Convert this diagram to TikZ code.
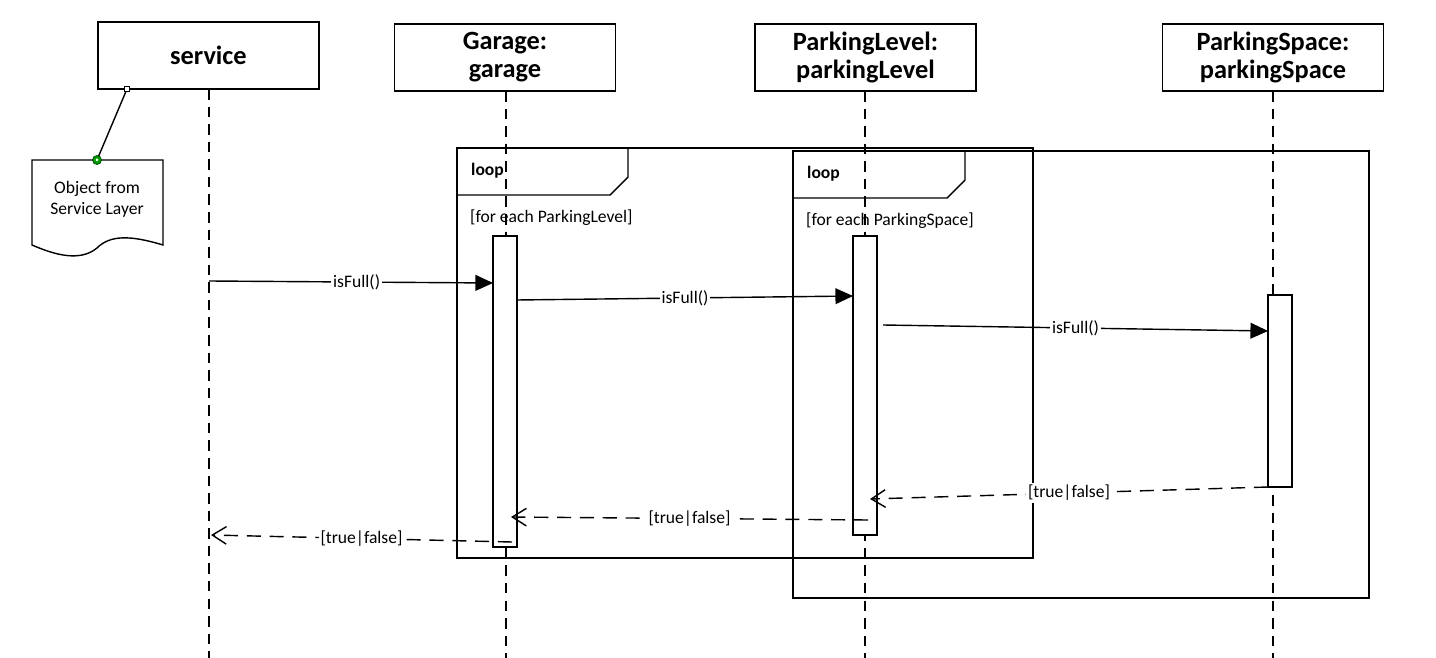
\documentclass[tikz,border=0pt]{standalone}
\usepackage{fontspec}
\setmainfont{Carlito}
\usetikzlibrary{arrows.meta}
\tikzset{
  head/.style={draw, thick, minimum width=4.42cm, minimum height=1.34cm, align=center, font=\fontsize{15}{16}\selectfont\bfseries, inner sep=1pt},
  life/.style={dashed, thick, dash pattern=on 6pt off 4pt},
  act/.style={draw, thick, fill=white, minimum width=0.48cm, inner sep=0pt},
  msg/.style={thick, -{Triangle[length=10pt,width=9pt]}},
  ret/.style={thick, dash pattern=on 8pt off 5pt, -{Straight Barb[length=8pt,width=10pt]}},
  lbl/.style={fill=white, inner sep=1pt, font=\fontsize{10}{12}\selectfont},
}
\begin{document}
\begin{tikzpicture}[x=0.02cm, y=-0.02cm]
    \useasboundingbox (0,0) rectangle (1436,658);

    % Lebenslinien
    \draw[life] (209,89) -- (209,658);
    \draw[life] (506,91) -- (506,658);
    \draw[life] (865,91) -- (865,658);
    \draw[life] (1273,91) -- (1273,658);

    % Kopfboxen
    \node[head] (service) at (208.5,55.5) {service};
    \node[head] (garage) at (505,57.5) {Garage:\\garage};
    \node[head] (level) at (865.5,57.5) {ParkingLevel:\\parkingLevel};
    \node[head] (space) at (1273,57.5) {ParkingSpace:\\parkingSpace};

    % Notiz
    \draw[thick] (32,160) -- (163,160) -- (163,245)
        .. controls (130,235) and (110,235) .. (97,248)
        .. controls (80,262) and (55,255) .. (32,245) -- cycle;
    \node[align=center, font=\fontsize{10}{12}\selectfont] (note) at (97,199) {Object from\\Service Layer};
    \coordinate (notepin) at (97,160);
    \coordinate (servpin) at (127,89);
    \draw[thick] (servpin) -- (notepin);
    \draw[fill=white] (124.5,86.5) rectangle (129.5,91.5);
    \draw[fill=green!60!black, draw=green!30!black] (notepin) circle (4.5);
    \fill[white] (notepin) circle (1.5);

    % Schleifen
    \draw[thick] (457,148) rectangle (1033,558);
    \draw[thick] (457,195) -- (610,195) -- (628,177) -- (628,148);
    \node[anchor=west, font=\fontsize{10}{12}\selectfont\bfseries] (loopa) at (465,171) {loop};
    \node[anchor=west, font=\fontsize{10}{12}\selectfont] (guarda) at (464,218) {[for each ParkingLevel]};
    \draw[thick] (793,151) rectangle (1369,598);
    \draw[thick] (793,198) -- (947,198) -- (965,180) -- (965,151);
    \node[anchor=west, font=\fontsize{10}{12}\selectfont\bfseries] (loopb) at (801,174) {loop};
    \node[anchor=west, font=\fontsize{10}{12}\selectfont] (guardb) at (800,221) {[for each ParkingSpace]};

    % Aktivierungen
    \node[act, minimum height=6.22cm] (agarage) at (505,391.5) {};
    \node[act, minimum height=5.98cm] (alevel) at (865,385.5) {};
    \node[act, minimum height=3.84cm] (aspace) at (1280,391) {};

    % Nachrichten
    \coordinate (m1a) at (209,281); \coordinate (m1b) at (493,283);
    \coordinate (m2a) at (517,300); \coordinate (m2b) at (853,296);
    \coordinate (m3a) at (883,325); \coordinate (m3b) at (1268,331);
    \draw[msg] (m1a) -- node[lbl, pos=0.52] {isFull()} (m1b);
    \draw[msg] (m2a) -- node[lbl, pos=0.5] {isFull()} (m2b);
    \draw[msg] (m3a) -- node[lbl, pos=0.5] {isFull()} (m3b);

    % Antworten
    \coordinate (r1a) at (1268,487); \coordinate (r1b) at (870,499);
    \coordinate (r2a) at (868,520); \coordinate (r2b) at (511,517);
    \coordinate (r3a) at (512,542); \coordinate (r3b) at (211,535);
    \draw[ret] (r1a) -- node[lbl, pos=0.5] {[true|false]} (r1b);
    \draw[ret] (r2a) -- node[lbl, pos=0.5] {[true|false]} (r2b);
    \draw[ret] (r3a) -- node[lbl, pos=0.5] {[true|false]} (r3b);
\end{tikzpicture}
\end{document}
